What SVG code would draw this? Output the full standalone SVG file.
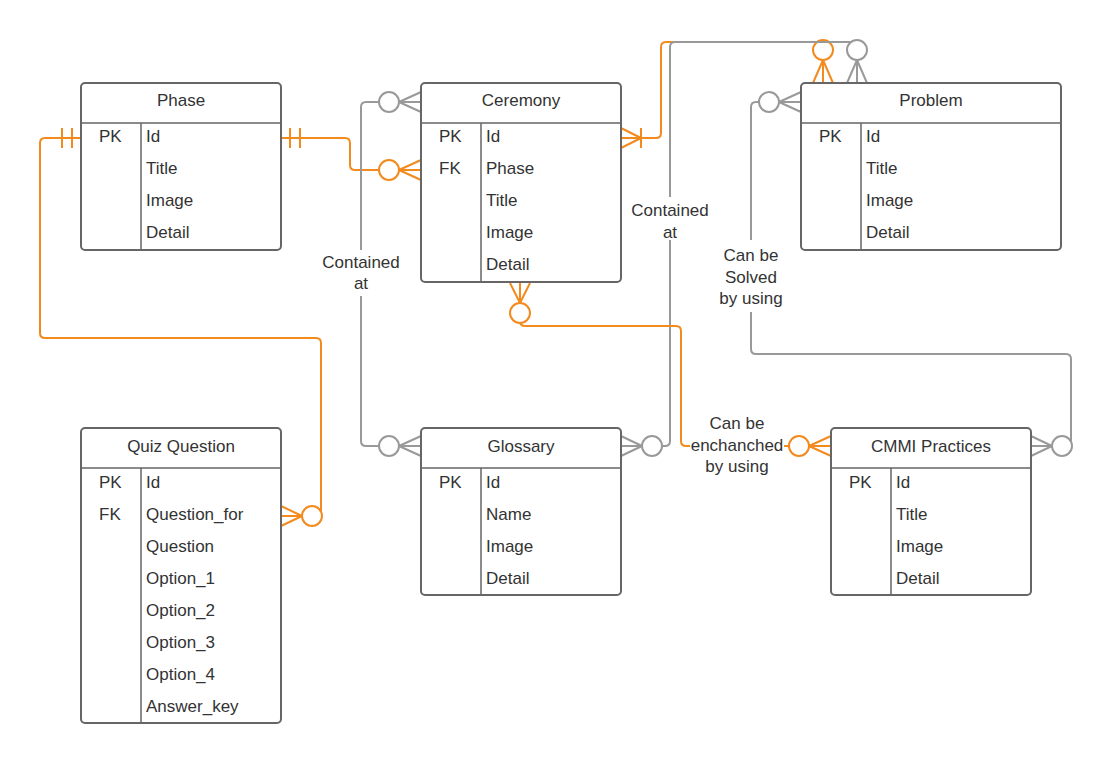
<svg xmlns="http://www.w3.org/2000/svg" width="1113" height="764" viewBox="0 0 1113 764">
<style>
.box{fill:#fff;stroke:#666;stroke-width:2}
.ln{stroke:#666;stroke-width:1.5}
text{font-family:"Liberation Sans",Arial,sans-serif;font-size:17px;fill:#333}
.h{text-anchor:middle}
.o{fill:none;stroke:#f28a1e;stroke-width:2}
.g{fill:none;stroke:#999;stroke-width:2}
.oc{fill:#fff;stroke:#f28a1e;stroke-width:2}
.gc{fill:#fff;stroke:#999;stroke-width:2}
.lbl{text-anchor:middle;fill:#333}
</style>
<rect width="1113" height="764" fill="#fff"/>
<g id="connectors">
<!-- Phase - Ceremony -->
<path class="o" d="M281 138 H345 Q350 138 350 143 V165 Q350 170 355 170 H378"/>
<path class="o" d="M290 128 V148 M300 128 V148"/>
<circle class="oc" cx="389" cy="170" r="10"/>
<path class="o" d="M399 170 H421 M399 170 L421 160 M399 170 L421 180"/>
<!-- Phase - Quiz -->
<path class="o" d="M81 138 H45 Q40 138 40 143 V333 Q40 338 45 338 H316 Q321 338 321 343 V511 Q321 516 316 516 H322"/>
<path class="o" d="M62 128 V148 M72 128 V148"/>
<circle class="oc" cx="312" cy="516" r="10"/>
<path class="o" d="M302 516 H281 M302 516 L281 506 M302 516 L281 526"/>
<!-- Ceremony - Glossary -->
<path class="g" d="M379 102 H366 Q361 102 361 107 V250 M361 296 V441 Q361 446 366 446 H379"/>
<circle class="gc" cx="389" cy="102" r="10"/>
<path class="g" d="M399 102 H421 M399 102 L421 92 M399 102 L421 112"/>
<circle class="gc" cx="389" cy="446" r="10"/>
<path class="g" d="M399 446 H421 M399 446 L421 436 M399 446 L421 456"/>
<text class="lbl" x="361" y="268">Contained</text>
<text class="lbl" x="361" y="289">at</text>
<!-- Ceremony - Problem -->
<path class="o" d="M621 138 H656 Q661 138 661 133 V47 Q661 42 666 42 H823"/>
<path class="o" d="M621 138 H641 M621 128 L641 138 M621 148 L641 138 M641 128 V148"/>
<circle class="oc" cx="823" cy="50" r="10"/>
<path class="o" d="M823 60 V83 M823 60 L813 83 M823 60 L833 83"/>
<!-- Glossary - Problem -->
<path class="g" d="M662 446 H665 Q670 446 670 441 V240 M670 197 V47 Q670 42 675 42 H857"/>
<path class="g" d="M642 446 H621 M642 446 L621 436 M642 446 L621 456"/>
<circle class="gc" cx="652" cy="446" r="10"/>
<circle class="gc" cx="857" cy="50" r="10"/>
<path class="g" d="M857 60 V83 M857 60 L847 83 M857 60 L867 83"/>
<text class="lbl" x="670" y="216">Contained</text>
<text class="lbl" x="670" y="238">at</text>
<!-- Ceremony - CMMI -->
<path class="o" d="M520 323 V321 Q520 326 525 326 H676 Q681 326 681 331 V441 Q681 446 686 446 H690 M784 446 H789"/>
<circle class="oc" cx="520" cy="313" r="10"/>
<path class="o" d="M520 303 V283 M520 303 L510 283 M520 303 L530 283"/>
<circle class="oc" cx="799" cy="446" r="10"/>
<path class="o" d="M809 446 H831 M809 446 L831 436 M809 446 L831 456"/>
<text class="lbl" x="737" y="429">Can be</text>
<text class="lbl" x="737" y="451">enchanched</text>
<text class="lbl" x="737" y="472">by using</text>
<!-- Problem - CMMI -->
<path class="g" d="M759 102 H756 Q751 102 751 107 V240 M751 312 V349 Q751 354 756 354 H1066 Q1071 354 1071 359 V441 Q1071 446 1066 446"/>
<circle class="gc" cx="769" cy="102" r="10"/>
<path class="g" d="M779 102 H801 M779 102 L801 92 M779 102 L801 112"/>
<circle class="gc" cx="1062" cy="446" r="10"/>
<path class="g" d="M1052 446 H1031 M1052 446 L1031 436 M1052 446 L1031 456"/>
<text class="lbl" x="751" y="261">Can be</text>
<text class="lbl" x="751" y="283">Solved</text>
<text class="lbl" x="751" y="304">by using</text>
</g>
<g id="phase">
<rect class="box" x="81" y="83" width="200" height="167" rx="4"/>
<path class="ln" d="M81 123 H281 M141 123 V250"/>
<text class="h" x="181" y="106">Phase</text>
<text x="99" y="142">PK</text><text x="146" y="142">Id</text>
<text x="146" y="174">Title</text><text x="146" y="206">Image</text><text x="146" y="238">Detail</text>
</g>
<g id="ceremony">
<rect class="box" x="421" y="83" width="200" height="199" rx="4"/>
<path class="ln" d="M421 123 H621 M481 123 V282"/>
<text class="h" x="521" y="106">Ceremony</text>
<text x="439" y="142">PK</text><text x="486" y="142">Id</text>
<text x="439" y="174">FK</text><text x="486" y="174">Phase</text>
<text x="486" y="206">Title</text><text x="486" y="238">Image</text><text x="486" y="270">Detail</text>
</g>
<g id="problem">
<rect class="box" x="801" y="83" width="260" height="167" rx="4"/>
<path class="ln" d="M801 123 H1061 M861 123 V250"/>
<text class="h" x="931" y="106">Problem</text>
<text x="819" y="142">PK</text><text x="866" y="142">Id</text>
<text x="866" y="174">Title</text><text x="866" y="206">Image</text><text x="866" y="238">Detail</text>
</g>
<g id="quiz">
<rect class="box" x="81" y="428" width="200" height="295" rx="4"/>
<path class="ln" d="M81 468 H281 M141 468 V723"/>
<text class="h" x="181" y="452">Quiz Question</text>
<text x="99" y="488">PK</text><text x="146" y="488">Id</text>
<text x="99" y="520">FK</text><text x="146" y="520">Question_for</text>
<text x="146" y="552">Question</text><text x="146" y="584">Option_1</text>
<text x="146" y="616">Option_2</text><text x="146" y="648">Option_3</text>
<text x="146" y="680">Option_4</text><text x="146" y="712">Answer_key</text>
</g>
<g id="glossary">
<rect class="box" x="421" y="428" width="200" height="167" rx="4"/>
<path class="ln" d="M421 468 H621 M481 468 V595"/>
<text class="h" x="521" y="452">Glossary</text>
<text x="439" y="488">PK</text><text x="486" y="488">Id</text>
<text x="486" y="520">Name</text><text x="486" y="552">Image</text><text x="486" y="584">Detail</text>
</g>
<g id="cmmi">
<rect class="box" x="831" y="428" width="200" height="167" rx="4"/>
<path class="ln" d="M831 468 H1031 M891 468 V595"/>
<text class="h" x="931" y="452">CMMI Practices</text>
<text x="849" y="488">PK</text><text x="896" y="488">Id</text>
<text x="896" y="520">Title</text><text x="896" y="552">Image</text><text x="896" y="584">Detail</text>
</g>
</svg>
